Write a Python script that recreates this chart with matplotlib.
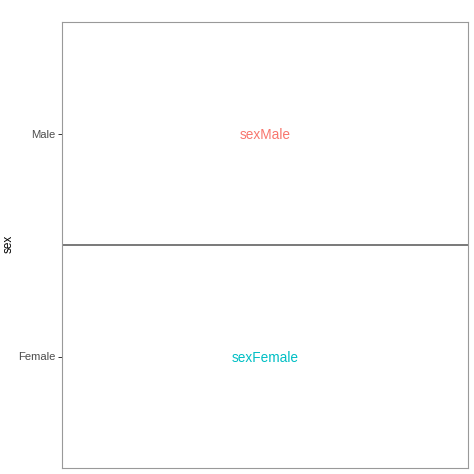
import matplotlib
matplotlib.use("Agg")
import matplotlib.pyplot as plt

# Category levels (bottom to top) and their label text / colours
sex_levels = ["Female", "Male"]
label_text = ["sexFemale", "sexMale"]
label_colors = ["#00BFC4", "#F8766D"]
divider_at = 1.5   # boundary between the two levels
x_center = 0.5

plt.rcParams["font.family"] = ["Liberation Sans", "DejaVu Sans"]

fig = plt.figure(figsize=(4.74, 4.74), dpi=100)
ax = fig.add_axes([62 / 474, 6 / 474, 406 / 474, 446 / 474])

ypos = list(range(1, len(sex_levels) + 1))
for y, txt, col in zip(ypos, label_text, label_colors):
    ax.text(x_center, y, txt, color=col, fontsize=9.8,
            ha="center", va="center_baseline")

ax.axhline(divider_at, color="#555555", linewidth=1.1)

ax.set_xlim(0, 1)
ax.set_ylim(0.5, len(sex_levels) + 0.5)
ax.set_yticks(ypos)
ax.set_yticklabels(sex_levels, fontsize=8.1, color="#4D4D4D")
ax.set_xticks([])
ax.tick_params(axis="y", length=3, width=0.7, color="#333333", pad=2)

# axis title placed directly so it stays inside the figure
fig.text(9 / 474, 1 - 244 / 474, "sex", rotation=90, fontsize=8.5,
         color="black", ha="center", va="center")

for s in ax.spines.values():
    s.set_color("#999999")
    s.set_linewidth(0.8)

fig.savefig("out.png", dpi=100)
